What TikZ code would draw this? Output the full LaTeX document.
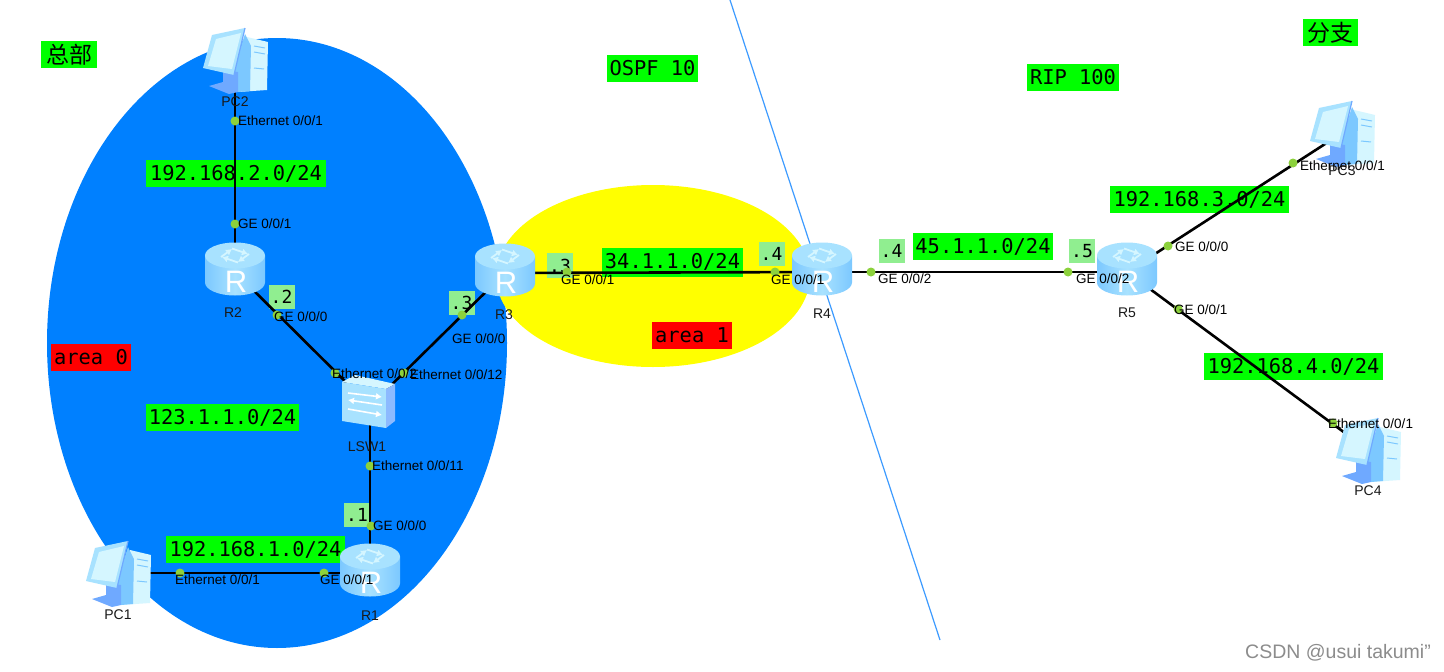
\documentclass[tikz,border=0pt]{standalone}
\usepackage{fontspec}
\setmainfont{Liberation Sans}
\newfontfamily\codefont{DejaVu Sans Mono}
\newfontfamily\cjkfont{Noto Sans CJK SC}
\usetikzlibrary{arrows.meta}
\definecolor{areablue}{HTML}{0080FF}
\definecolor{areayellow}{HTML}{FFFF00}
\definecolor{tagGreen}{HTML}{00FF00}
\definecolor{tagRed}{HTML}{FF0000}
\definecolor{portdot}{HTML}{8CD13C}
\definecolor{hostgreen}{HTML}{90EE90}
\definecolor{wireblue}{HTML}{3D9BFF}
\definecolor{iconside}{HTML}{7CC8FF}
\definecolor{iconlight}{HTML}{D5F6FF}
\definecolor{iconmid}{HTML}{A8E2FF}
\definecolor{icondeep}{HTML}{6FA9FF}
\tikzset{
  hub/.style={inner sep=0pt,minimum size=0pt},
  link/.style={draw=black,line width=2.6pt},
  port/.style={circle,fill=portdot,inner sep=0pt,minimum size=9pt},
  portlabel/.style={anchor=west,inner sep=0pt,font=\fontsize{13.5}{14}\selectfont,text=black},
  devlabel/.style={inner sep=0pt,font=\fontsize{14}{15}\selectfont,text=black!90},
  tag/.style={fill=tagGreen,inner sep=0pt,minimum height=27pt,font=\codefont\fontsize{20.4}{22}\selectfont},
  redtag/.style={tag,fill=tagRed},
  hosttag/.style={fill=hostgreen,inner sep=0pt,minimum width=26pt,minimum height=24pt,font=\codefont\fontsize{18}{20}\selectfont},
  pics/routericon/.style={code={
    \begin{scope}[yshift=3pt]
    \path[left color=iconside,right color=iconside,middle color=iconmid]
      (-30,-13.5) -- (-30,13.5) arc[start angle=180,end angle=0,x radius=30,y radius=13] -- (30,-13.5) -- cycle;
    \path[fill=iconmid] (0,-13.5) ellipse[x radius=30,y radius=13];
    \begin{scope}[shift={(0,-13.5)},yscale=.5]
      \foreach \a in {0,90,180,270}
        \draw[iconlight,line width=1.8pt,-{Latex[length=6pt,width=7pt]},rotate=\a] (-3,-14) -- (13,-3);
    \end{scope}
    \node[white,inner sep=0pt,font=\fontsize{31}{31}\selectfont] at (1,13) {R};
    \end{scope}
  }},
  pics/pcicon/.style={code={
    \path[fill=iconlight] (12,-23) -- (33,-18) -- (32,30) -- (3,32) -- cycle;
    \path[fill=iconside] (10,-26) -- (16,-14) -- (15,31) -- (3,32) -- (-3,14) -- cycle;
    \draw[iconside,line width=1pt] (19,-14) -- (30,-12) (19,-8) -- (30,-6) (19,8) -- (29,9);
    \path[fill=icondeep] (-12,10) -- (3,12) -- (3,32) -- (-6,34) -- (-26,26) -- (-12,22) -- cycle;
    \path[fill=iconmid] (-32,8) -- (-23,-25) -- (10,-32) -- (-1,15) -- cycle;
    \path[fill=iconlight] (-27,6) -- (-19,-21) -- (6,-27) -- (-3,9) -- cycle;
    \draw[icondeep,line width=1.2pt] (10,-32) -- (-1,15);
  }},
  pics/switchicon/.style={code={
    \begin{scope}[yshift=2pt]
    \path[fill=iconlight] (-28,-22) -- (-15,-29) -- (25,-20) -- (16,-15) -- cycle;
    \path[fill=iconmid] (-28,-22) -- (16,-15) -- (16,24) -- (-28,17) -- cycle;
    \path[fill=icondeep!80] (16,-15) -- (25,-20) -- (25,17) -- (16,24) -- cycle;
    \draw[white,line width=1.6pt,-{Latex[length=6pt,width=7pt]}] (-22,-11) -- (12,-7);
    \draw[white,line width=1.6pt,-{Latex[length=6pt,width=7pt]}] (12,1) -- (-22,-4);
    \draw[white,line width=1.6pt,-{Latex[length=6pt,width=7pt]}] (-22,5) -- (12,11);
    \end{scope}
  }}
}

\begin{document}
\begin{tikzpicture}[x=1pt,y=-1pt]
  \useasboundingbox[fill=white] (0,0) rectangle (1444,672);

  % areas
  \fill[areablue] (277,343) ellipse[x radius=230,y radius=305];
  \fill[areayellow] (653,276) ellipse[x radius=157,y radius=91];
  \coordinate (cuttop) at (730,0);
  \coordinate (cutend) at (940,640);
  \draw[wireblue,line width=1.2pt] (cuttop) -- (cutend);

  % subnets
  \node[tag,minimum width=180pt] (net2) at (236,173.5) {192.168.2.0/24};
  \node[tag,minimum width=153pt] (net123) at (222.5,417.5) {123.1.1.0/24};
  \node[tag,minimum width=179pt] (net1) at (255.5,549.5) {192.168.1.0/24};
  \node[tag,minimum width=141pt,minimum height=29pt] (net34) at (672.5,262) {34.1.1.0/24};
  \node[tag,minimum width=140pt] (net45) at (983,246.5) {45.1.1.0/24};
  \node[tag,minimum width=179pt] (net3) at (1199.5,199.5) {192.168.3.0/24};
  \node[tag,minimum width=179pt] (net4) at (1293.5,366.5) {192.168.4.0/24};
  \node[tag,minimum width=91pt] (ospf) at (652.5,68) {OSPF 10};
  \node[tag,minimum width=92pt] (rip) at (1073,77) {RIP 100};
  \node[redtag,minimum width=80pt] (area0) at (91,357.5) {area 0};
  \node[redtag,minimum width=80pt] (area1) at (692,335.5) {area 1};
  \node[tag,minimum width=56pt,font=\cjkfont\fontsize{23}{24}\selectfont] (hq) at (69,54.5) {总部};
  \node[tag,minimum width=55pt,font=\cjkfont\fontsize{23}{24}\selectfont] (branch) at (1330.5,32.5) {分支};

  % host parts
  \node[hosttag,minimum height=25pt] (h3b) at (560,265.5) {.3};
  \node[hosttag] (h4a) at (771.5,254) {.4};
  \node[hosttag] (h4b) at (891.5,251) {.4};
  \node[hosttag] (h5) at (1082,251) {.5};
  \node[hosttag] (h2) at (281.5,297) {.2};
  \node[hosttag] (h3a) at (461.5,303) {.3};
  \node[hosttag] (h1) at (357,514.5) {.1};

  % devices
  \node[hub] (PC2) at (235,60) {};
  \node[hub] (R2) at (235,272) {};
  \node[hub] (R3) at (505,273) {};
  \node[hub] (LSW1) at (370,406) {};
  \node[hub] (R1) at (370,573) {};
  \node[hub] (PC1) at (118,573) {};
  \node[hub] (R4) at (822,272) {};
  \node[hub] (R5) at (1127,272) {};
  \node[hub] (PC3) at (1342,133) {};
  \node[hub] (PC4) at (1368,450) {};

  \path[link]
    (PC2) edge (R2)
    (R2) edge (LSW1)
    (R3) edge (LSW1)
    (LSW1) edge (R1)
    (R1) edge (PC1)
    (R3) edge (R4)
    (R4) edge (R5)
    (R5) edge (PC3)
    (R5) edge (PC4);

  \pic at (PC2) {pcicon};
  \pic at (PC1) {pcicon};
  \pic at (PC3) {pcicon};
  \pic at (PC4) {pcicon};
  \pic at (R1) {routericon};
  \pic at (R2) {routericon};
  \pic at (R3) {routericon};
  \pic at (R4) {routericon};
  \pic at (R5) {routericon};
  \pic at (LSW1) {switchicon};

  \node[devlabel] (nPC2) at (235,102) {PC2};
  \node[devlabel] (nR2) at (233,313) {R2};
  \node[devlabel] (nR3) at (504,315) {R3};
  \node[devlabel] (nR4) at (822,314) {R4};
  \node[devlabel] (nR5) at (1127,313) {R5};
  \node[devlabel] (nR1) at (370,616) {R1};
  \node[devlabel] (nPC1) at (118,615) {PC1};
  \node[devlabel] (nPC3) at (1342,171) {PC3};
  \node[devlabel] (nPC4) at (1368,491) {PC4};
  \node[devlabel] (nLSW1) at (367,447) {LSW1};

  % ports
  \node[port] (a1) at (235,121) {};
  \node[port] (a2) at (235,224) {};
  \node[port] (a3) at (277,315) {};
  \node[port] (a4) at (335,373) {};
  \node[port] (a5) at (404,373) {};
  \node[port] (a6) at (462,315) {};
  \node[port] (a7) at (370,466) {};
  \node[port] (a8) at (371,526) {};
  \node[port] (a9) at (324,573) {};
  \node[port] (a10) at (180,573) {};
  \node[port] (a11) at (567,272) {};
  \node[port] (a12) at (775,272) {};
  \node[port] (a13) at (871,272) {};
  \node[port] (a14) at (1068,272) {};
  \node[port] (a15) at (1168,246) {};
  \node[port] (a16) at (1178,309) {};
  \node[port] (a17) at (1293,163) {};
  \node[port] (a18) at (1333,423) {};

  \node[portlabel] at (238,121) {Ethernet 0/0/1};
  \node[portlabel] at (238,224) {GE 0/0/1};
  \node[portlabel] at (274,317) {GE 0/0/0};
  \node[portlabel] at (332,374) {Ethernet 0/0/2};
  \node[portlabel] at (410,375) {Ethernet 0/0/12};
  \node[portlabel] at (452,339) {GE 0/0/0};
  \node[portlabel] at (372,466) {Ethernet 0/0/11};
  \node[portlabel] at (373,526) {GE 0/0/0};
  \node[portlabel] at (320,580) {GE 0/0/1};
  \node[portlabel] at (175,580) {Ethernet 0/0/1};
  \node[portlabel] at (561,280) {GE 0/0/1};
  \node[portlabel] at (771,280) {GE 0/0/1};
  \node[portlabel] at (878,279) {GE 0/0/2};
  \node[portlabel] at (1076,279) {GE 0/0/2};
  \node[portlabel] at (1175,247) {GE 0/0/0};
  \node[portlabel] at (1174,310) {GE 0/0/1};
  \node[portlabel] at (1300,166) {Ethernet 0/0/1};
  \node[portlabel] at (1328,424) {Ethernet 0/0/1};

  \node[inner sep=0pt,anchor=east,text=black!45,font=\fontsize{19.5}{20}\selectfont] (mark) at (1431,653) {CSDN @usui takumi"};
\end{tikzpicture}
\end{document}
